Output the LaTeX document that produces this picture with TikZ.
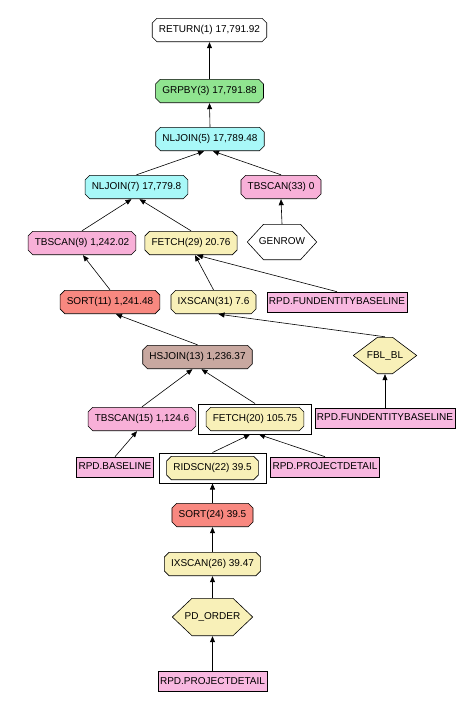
\documentclass[tikz,border=0pt]{standalone}
\usepackage{fontspec}
\setmainfont{Liberation Sans}
\usetikzlibrary{positioning,arrows.meta,fit}

\definecolor{grpgreen}{RGB}{144,228,144}
\definecolor{joincyan}{RGB}{168,248,248}
\definecolor{scanpink}{RGB}{248,176,216}
\definecolor{ixyellow}{RGB}{248,240,184}
\definecolor{sortred}{RGB}{248,136,128}
\definecolor{hsbrown}{RGB}{200,168,160}
\definecolor{tabpink}{RGB}{248,184,224}

\begin{document}
\begin{tikzpicture}[x=1pt,y=-1pt,
    txt/.style={font=\fontsize{10}{12}\selectfont, text height=7.5pt, text depth=2pt},
    op/.style={rectangle, inner xsep=7pt, inner ysep=0pt, minimum height=24pt, txt,
      path picture={
        \draw[fill=#1, line width=0.6pt]
          ([shift={(5pt,-0.3pt)}]path picture bounding box.north west)
          -- ([shift={(-5pt,-0.3pt)}]path picture bounding box.north east)
          -- ([shift={(-0.3pt,-5pt)}]path picture bounding box.north east)
          -- ([shift={(-0.3pt,5pt)}]path picture bounding box.south east)
          -- ([shift={(-5pt,0.3pt)}]path picture bounding box.south east)
          -- ([shift={(5pt,0.3pt)}]path picture bounding box.south west)
          -- ([shift={(0.3pt,5pt)}]path picture bounding box.south west)
          -- ([shift={(0.3pt,-5pt)}]path picture bounding box.north west)
          -- cycle;}},
    op/.default=white,
    hexa/.style 2 args={rectangle, inner sep=0pt, txt,
      path picture={
        \draw[fill=#2, line width=0.6pt]
          ([shift={(0.3pt,0pt)}]path picture bounding box.west)
          -- ([shift={(#1,-0.3pt)}]path picture bounding box.north west)
          -- ([shift={(-#1,-0.3pt)}]path picture bounding box.north east)
          -- ([shift={(-0.3pt,0pt)}]path picture bounding box.east)
          -- ([shift={(-#1,0.3pt)}]path picture bounding box.south east)
          -- ([shift={(#1,0.3pt)}]path picture bounding box.south west)
          -- cycle;}},
    tab/.style={rectangle, draw, fill=tabpink, line width=0.6pt, inner xsep=2pt, inner ysep=0pt,
      minimum height=20pt, txt},
    framebox/.style={draw, rectangle, line width=0.6pt, inner xsep=7pt, inner ysep=3pt},
    link/.style={-{Triangle[length=6pt,width=5pt]}, line width=0.6pt}]
  \useasboundingbox (0,0) rectangle (473,702);

  % operateurs du plan
  \node[op] (ret1) at (209.5,30) {RETURN(1) 17,791.92};
  \node[op=grpgreen] (grpby3) at (209.5,91) {GRPBY(3) 17,791.88};
  \node[op=joincyan] (nljoin5) at (210,139) {NLJOIN(5) 17,789.48};
  \node[op=joincyan] (nljoin7) at (136.5,187) {NLJOIN(7) 17,779.8};
  \node[op=scanpink] (tbscan33) at (281,187) {TBSCAN(33) 0};
  \node[hexa={16.5pt}{white}, minimum width=70pt, minimum height=36pt] (genrow) at (282,242) {GENROW};
  \node[op=scanpink] (tbscan9) at (82,243) {TBSCAN(9) 1,242.02};
  \node[op=ixyellow] (fetch29) at (191,243) {FETCH(29) 20.76};
  \node[op=sortred] (sort11) at (110,302) {SORT(11) 1,241.48};
  \node[op=ixyellow] (ixscan31) at (213.5,302) {IXSCAN(31) 7.6};
  \node[tab] (fundA) at (337,302) {RPD.FUNDENTITYBASELINE};
  \node[op=hsbrown] (hsjoin13) at (197.5,357) {HSJOIN(13) 1,236.37};
  \node[hexa={24.5pt}{ixyellow}, minimum width=64pt, minimum height=37pt] (fblbl) at (385,355.5) {FBL\_BL};
  \node[op=scanpink] (tbscan15) at (142,419) {TBSCAN(15) 1,124.6};
  \node[op=ixyellow] (fetch20) at (255,419) {FETCH(20) 105.75};
  \node[framebox, fit=(fetch20)] (fetch20box) {};
  \node[tab] (fundB) at (385,418) {RPD.FUNDENTITYBASELINE};
  \node[tab] (baseline) at (115,467) {RPD.BASELINE};
  \node[op=ixyellow] (ridscn22) at (212.5,468) {RIDSCN(22) 39.5};
  \node[framebox, fit=(ridscn22)] (ridscn22box) {};
  \node[tab] (projA) at (325,467) {RPD.PROJECTDETAIL};
  \node[op=sortred] (sort24) at (212.5,515) {SORT(24) 39.5};
  \node[op=ixyellow] (ixscan26) at (212.5,564) {IXSCAN(26) 39.47};
  \node[hexa={20pt}{ixyellow}, minimum width=81pt, minimum height=38pt] (pdorder) at (212.5,617) {PD\_ORDER};
  \node[tab] (projB) at (212.5,681.5) {RPD.PROJECTDETAIL};

  % liens fils -> pere
  \draw[link] (grpby3.north) -- (ret1.south);
  \draw[link] (nljoin5.north) -- (grpby3.south);
  \draw[link] (nljoin7.north) -- ([xshift=-6pt]nljoin5.south);
  \draw[link] (tbscan33.north) -- ([xshift=3pt]nljoin5.south);
  \draw[link] (genrow.north) -- (tbscan33.south);
  \draw[link] (tbscan9.north) -- ([xshift=-5pt]nljoin7.south);
  \draw[link] (fetch29.north) -- ([xshift=3pt]nljoin7.south);
  \draw[link] (sort11.north) -- ([xshift=1pt]tbscan9.south);
  \draw[link] (ixscan31.north) -- ([xshift=4pt]fetch29.south);
  \draw[link] (fundA.north) -- ([xshift=6pt]fetch29.south);
  \draw[link] (hsjoin13.north) -- ([xshift=6pt]sort11.south);
  \draw[link] (fblbl.north) -- ([xshift=5pt]ixscan31.south);
  \draw[link] (tbscan15.north) -- ([xshift=-5pt]hsjoin13.south);
  \draw[link] (fetch20box.north) -- ([xshift=4pt]hsjoin13.south);
  \draw[link] (fundB.north) -- (fblbl.south);
  \draw[link] (baseline.north) -- ([xshift=-5pt]tbscan15.south);
  \draw[link] (ridscn22box.north) -- ([xshift=-5pt]fetch20box.south);
  \draw[link] (projA.north) -- ([xshift=4pt]fetch20box.south);
  \draw[link] (sort24.north) -- (ridscn22box.south);
  \draw[link] (ixscan26.north) -- (sort24.south);
  \draw[link] (pdorder.north) -- (ixscan26.south);
  \draw[link] (projB.north) -- (pdorder.south);
\end{tikzpicture}
\end{document}
